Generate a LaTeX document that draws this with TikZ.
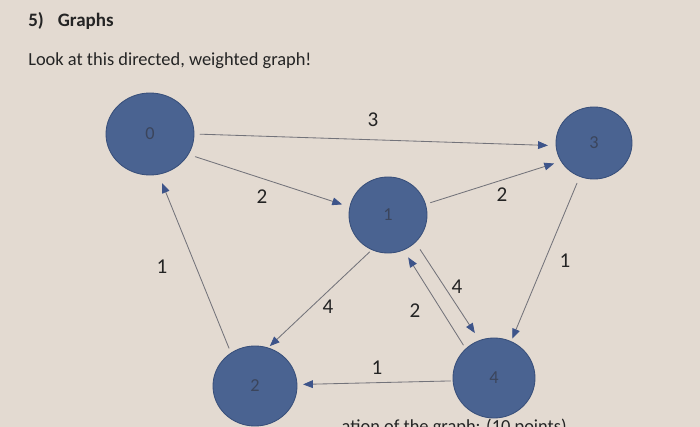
\documentclass[tikz,border=0pt]{standalone}
\usepackage{fontspec}
\setmainfont{Carlito}
\usepackage{tikz}
\usetikzlibrary{shapes.geometric}
\usetikzlibrary{arrows.meta}
\definecolor{paper}{rgb}{0.89,0.855,0.82}
\definecolor{nodeblue}{rgb}{0.29,0.39,0.57}
\definecolor{rimblue}{rgb}{0.22,0.31,0.48}
\definecolor{digitgray}{rgb}{0.23,0.27,0.36}
\definecolor{linegray}{rgb}{0.45,0.45,0.48}
\definecolor{tipblue}{rgb}{0.24,0.33,0.54}
\definecolor{inkgray}{rgb}{0.14,0.14,0.14}
\tikzset{
  vert/.style={ellipse,fill=nodeblue,draw=rimblue,line width=0.6pt,inner sep=0pt,text=digitgray,font=\fontsize{13}{13}\selectfont},
  edge/.style={-{Triangle[length=7pt,width=5.5pt,color=tipblue]},draw=linegray,line width=0.6pt},
  wt/.style={text=inkgray,font=\fontsize{15}{15}\selectfont},
  prose/.style={anchor=base west,inner sep=0pt,text=inkgray,font=\fontsize{13.1}{16}\selectfont}
}

\begin{document}
\begin{tikzpicture}[line cap=round,line join=round,x=0.025cm,y=-0.025cm]
            \fill[paper] (0,0) rectangle (700,427);
            \clip (0,0) rectangle (700,427);
            % text
            \node[prose,font=\bfseries\fontsize{13.5}{16}\selectfont] (title) at (28,27) {5)\hspace{10pt}Graphs};
            \node[prose] (intro) at (28,66) {Look at this directed, weighted graph!};
            \node[prose,anchor=base east] (task) at (567,432) {ation of the graph: (10 points)};
            % vertices
            \node[vert,minimum width=2.2cm,minimum height=2.05cm] (n0) at (150,134) {0};
            \node[vert,minimum width=1.95cm,minimum height=1.9cm] (n1) at (388,215) {1};
            \node[vert,minimum width=2.1cm,minimum height=2.0cm] (n2) at (255,386) {2};
            \node[vert,minimum width=1.9cm,minimum height=1.8cm] (n3) at (594,143) {3};
            \node[vert,minimum width=2.05cm,minimum height=2.0cm] (n4) at (494,378) {4};
            % edges
            \draw[edge,shorten <=4pt,shorten >=5.5pt] (n0.0) -- (n3.184);
            \draw[edge,shorten <=5pt,shorten >=5.5pt] (n0.-28) -- (n1.168);
            \draw[edge,shorten <=3.5pt,shorten >=5pt] (n1.16) -- (n3.209);
            \draw[edge,shorten <=5pt,shorten >=2pt] (n3.247) -- (n4.65);
            \draw[edge,shorten <=2pt,shorten >=1.5pt] (n1.245) -- (n2.71);
            \draw[edge,shorten <=6pt,shorten >=6pt] (n1.-45) -- (n4.111);
            \draw[edge,shorten <=3pt,shorten >=6pt] (n4.134) -- (n1.-66);
            \draw[edge,shorten <=1.5pt,shorten >=4pt] (n4.184) -- (n2.2);
            \draw[edge,shorten <=3.5pt,shorten >=6.5pt] (n2.126) -- (n0.-78);
            % weights
            \node[wt] (w03) at (373,120) {3};
            \node[wt] (w01) at (262,197) {2};
            \node[wt] (w13) at (502,195) {2};
            \node[wt] (w34) at (565,261) {1};
            \node[wt] (w12) at (328,307) {4};
            \node[wt] (w14) at (457,287) {4};
            \node[wt] (w41) at (415,311) {2};
            \node[wt] (w42) at (377,368) {1};
            \node[wt] (w20) at (162,267) {1};
\end{tikzpicture}
\end{document}
